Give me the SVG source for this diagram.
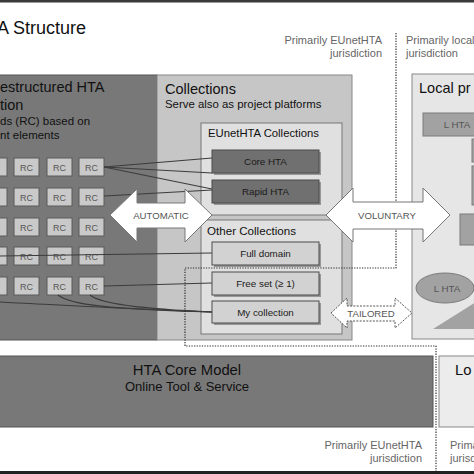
<svg xmlns="http://www.w3.org/2000/svg" width="474" height="474" viewBox="0 0 474 474">
<style>
text{font-family:"Liberation Sans",Arial,sans-serif;}
.rc rect{fill:#c9c9c9;stroke:#5a5a5a;stroke-width:1;}
.rc text{font-size:9px;fill:#555;text-anchor:middle;}
.box{stroke:#4a4a4a;stroke-width:1;}
.shadow{fill:#666;opacity:0.6;}
.btxt{font-size:9.8px;fill:#1a1a1a;text-anchor:middle;}
.conn{stroke:#3c3c3c;stroke-width:1.2;fill:none;}
.dot{stroke:#333;stroke-width:1.2;stroke-dasharray:1.3,1.3;fill:none;}
.jur{font-size:11px;fill:#666;}
.arrow{fill:#fff;stroke:#777;stroke-width:1;}
.atxt{font-size:9.6px;fill:#555;text-anchor:middle;}
.local{fill:#a2a2a2;stroke:#7a7a7a;stroke-width:1;}
</style>
<rect x="0" y="0" width="474" height="474" fill="#fff"/>
<rect x="0" y="0" width="474" height="2.5" fill="#3a3a3a"/>
<rect x="0" y="471" width="474" height="3" fill="#222"/>

<text x="-3" y="34" font-size="18" fill="#111">A Structure</text>

<g id="jur-top">
<text class="jur" x="382" y="44" text-anchor="end">Primarily EUnetHTA</text>
<text class="jur" x="382" y="57" text-anchor="end">jurisdiction</text>
<text class="jur" x="406" y="44">Primarily local</text>
<text class="jur" x="406" y="57">jurisdiction</text>
</g>

<g id="restructured">
<rect x="-1" y="75" width="158" height="265" fill="#787878" stroke="#555" stroke-width="1"/>
<text x="0" y="92" font-size="14.5" fill="#111">estructured HTA</text>
<text x="0" y="110" font-size="14.5" fill="#111">tion</text>
<text x="0" y="125" font-size="11.5" fill="#111">ds (RC) based on</text>
<text x="0" y="139" font-size="11.5" fill="#111">nt elements</text>
</g>

<g id="collections">
<rect x="157" y="75" width="195" height="265" fill="#c6c6c6" stroke="#888" stroke-width="1"/>
<text x="165" y="94" font-size="14.5" fill="#111">Collections</text>
<text x="165" y="108" font-size="11.4" fill="#111">Serve also as project platforms</text>
</g>

<g id="eunethta-collections">
<rect x="201" y="123" width="141" height="92" fill="#e0e0e0" stroke="#777" stroke-width="1"/>
<text x="208" y="137" font-size="11.3" fill="#111">EUnetHTA Collections</text>
</g>
<g id="other-collections">
<rect x="201" y="220" width="141" height="114" fill="#e0e0e0" stroke="#777" stroke-width="1"/>
<text x="207" y="235" font-size="11.6" fill="#111">Other Collections</text>
</g>

<g id="local-panel">
<rect x="412" y="74" width="70" height="265" fill="#e6e6e6" stroke="#888" stroke-width="1"/>
<text x="419" y="93" font-size="14.5" fill="#111">Local pr</text>
<rect class="local" x="423" y="113" width="70" height="23"/>
<text x="457" y="128" font-size="9.8" fill="#555" text-anchor="middle">L HTA</text>
<rect class="local" x="472" y="139" width="20" height="23"/>
<rect class="local" x="472" y="166" width="20" height="39"/>
<rect class="local" x="460" y="214" width="30" height="31"/>
<ellipse class="local" cx="445" cy="288" rx="29" ry="15"/>
<text x="447" y="292" font-size="9.8" fill="#555" text-anchor="middle">L HTA</text>
<polygon points="433,329 476,302 476,329" fill="#a2a2a2"/>
</g>

<g id="rc-grid" class="rc">
<rect x="-18" y="158" width="25" height="18"/><rect x="14" y="158" width="25" height="18"/><rect x="47" y="158" width="25" height="18"/><rect x="79" y="158" width="25" height="18"/>
<rect x="-18" y="188" width="25" height="18"/><rect x="14" y="188" width="25" height="18"/><rect x="47" y="188" width="25" height="18"/><rect x="79" y="188" width="25" height="18"/>
<rect x="-18" y="218" width="25" height="18"/><rect x="14" y="218" width="25" height="18"/><rect x="47" y="218" width="25" height="18"/><rect x="79" y="218" width="25" height="18"/>
<rect x="-18" y="247" width="25" height="18"/><rect x="14" y="247" width="25" height="18"/><rect x="47" y="247" width="25" height="18"/><rect x="79" y="247" width="25" height="18"/>
<rect x="-18" y="277" width="25" height="18"/><rect x="14" y="277" width="25" height="18"/><rect x="47" y="277" width="25" height="18"/><rect x="79" y="277" width="25" height="18"/>
<text x="26.5" y="170.5">RC</text><text x="59.5" y="170.5">RC</text><text x="91.5" y="170.5">RC</text>
<text x="26.5" y="200.5">RC</text><text x="59.5" y="200.5">RC</text><text x="91.5" y="200.5">RC</text>
<text x="26.5" y="230.5">RC</text><text x="59.5" y="230.5">RC</text><text x="91.5" y="230.5">RC</text>
<text x="26.5" y="259.5">RC</text><text x="59.5" y="259.5">RC</text><text x="91.5" y="259.5">RC</text>
<text x="26.5" y="289.5">RC</text><text x="59.5" y="289.5">RC</text><text x="91.5" y="289.5">RC</text>
</g>

<g id="connectors">
<line class="conn" x1="104" y1="167" x2="212" y2="158"/>
<line class="conn" x1="104" y1="167" x2="212" y2="173"/>
<line class="conn" x1="104" y1="167" x2="212" y2="189"/>
<line class="conn" x1="104" y1="196" x2="212" y2="190"/>
<line class="conn" x1="0" y1="256" x2="212" y2="253"/>
<line class="conn" x1="104" y1="286" x2="212" y2="283"/>
<path class="conn" d="M58,295 C70,305 110,309 212,312"/>
<path class="conn" d="M90,295 C100,304 140,309 212,312"/>
<path class="conn" d="M0,302 C60,305 150,310 212,312"/>
</g>

<g id="core-hta">
<rect class="shadow" x="214" y="152" width="107" height="23"/>
<rect class="box" x="212" y="150" width="107" height="23" fill="#707070"/>
<text class="btxt" x="265.5" y="165">Core HTA</text>
</g>
<g id="rapid-hta">
<rect class="shadow" x="214" y="182" width="107" height="23"/>
<rect class="box" x="212" y="180" width="107" height="23" fill="#707070"/>
<text class="btxt" x="265.5" y="195">Rapid HTA</text>
</g>
<g id="full-domain">
<rect class="shadow" x="214" y="244" width="107" height="23"/>
<rect class="box" x="212" y="242" width="107" height="23" fill="#d2d2d2"/>
<text class="btxt" x="265.5" y="257">Full domain</text>
</g>
<g id="free-set">
<rect class="shadow" x="214" y="274" width="107" height="23"/>
<rect class="box" x="212" y="272" width="107" height="23" fill="#d2d2d2"/>
<text class="btxt" x="265.5" y="287">Free set (≥ 1)</text>
</g>
<g id="my-collection">
<rect class="shadow" x="214" y="303" width="107" height="22"/>
<rect class="box" x="212" y="301" width="107" height="22" fill="#d2d2d2"/>
<text class="btxt" x="265.5" y="315.5">My collection</text>
</g>

<g id="hta-core-model">
<rect x="-1" y="356" width="434" height="71" fill="#787878" stroke="#555" stroke-width="1"/>
<text x="187" y="375" font-size="14.8" fill="#111" text-anchor="middle">HTA Core Model</text>
<text x="187" y="391" font-size="13" fill="#111" text-anchor="middle">Online Tool &amp; Service</text>
</g>
<g id="local-bar">
<rect x="439" y="356" width="40" height="71" fill="#ececec" stroke="#888" stroke-width="1"/>
<text x="455" y="375" font-size="14.8" fill="#111">Lo</text>
</g>

<g id="jurisdiction-line">
<path class="dot" d="M396,33 L396,268 L185,268 L185,346 L436,346 L436,471"/>
</g>

<g id="automatic">
<path class="arrow" d="M110,215 L137,189 L137,203 L185,203 L185,189 L212,215 L185,242 L185,228 L137,228 L137,242 Z"/>
<text class="atxt" x="161" y="219">AUTOMATIC</text>
</g>
<g id="voluntary">
<path class="arrow" d="M326,215 L353,188 L353,202 L423,202 L423,188 L450,215 L423,242 L423,229 L353,229 L353,242 Z"/>
<text class="atxt" x="387" y="219">VOLUNTARY</text>
</g>
<g id="tailored">
<path d="M331,313 L347,298 L347,306 L395,306 L395,298 L412,313 L395,328 L395,321 L347,321 L347,328 Z" fill="#fff" stroke="#555" stroke-width="1" stroke-dasharray="2,1.3"/>
<text class="atxt" x="371" y="317">TAILORED</text>
</g>

<g id="jur-bottom">
<text class="jur" x="422" y="449" text-anchor="end">Primarily EUnetHTA</text>
<text class="jur" x="422" y="462" text-anchor="end">jurisdiction</text>
<text class="jur" x="450" y="449">Primarily local</text>
<text class="jur" x="450" y="462">jurisdiction</text>
</g>
</svg>
